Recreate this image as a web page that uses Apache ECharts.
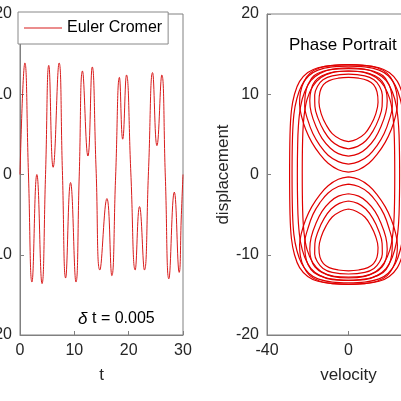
<!DOCTYPE html>
<html><head><meta charset="utf-8">
<script src="https://cdn.jsdelivr.net/npm/echarts@6/dist/echarts.min.js"></script>
<style>html,body{margin:0;padding:0;background:#fff}#c{width:401px;height:401px}</style>
</head><body><div id="c"></div>
<script>
// time series (t, displacement)
var eulerCromer = [[0,0],[0.9,13.9],[1.55,0.2],[2.2,-13.4],[3.1,0],[4.05,-13.6],[4.7,0],[5.3,13.6],[6.1,0.9],[7.2,13.9],[7.8,0.5],[8.4,-12.9],[9.3,-1],[10.3,-13.4],[10.9,-0.2],[11.5,12.9],[12.5,2.3],[13.3,13.4],[14.0,0.7],[14.7,-11.9],[16,-3],[16.9,-12.6],[17.6,-0.2],[18.3,12.1],[18.9,4.4],[19.6,12.4],[20.4,0.2],[21.2,-11.9],[22,-4],[22.9,-11.9],[23.65,0.4],[24.4,12.7],[25.2,3.6],[26.1,12.4],[26.75,-0.3],[27.4,-13],[28.4,-2.2],[29.3,-12.2],[29.7,-5],[30,0]];
// phase portrait loops (velocity, displacement)
var upperA = [[0,0.3],[5,0.6],[10,1.4],[14,2.5],[18,4],[21,5.6],[23,7.2],[24,8.8],[23.6,10.2],[22,11.5],[19,12.6],[14,13.3],[7,13.6],[0,13.7],[-7,13.6],[-14,13.3],[-19,12.6],[-22,11.5],[-23.6,10.2],[-24,8.8],[-23,7.2],[-21,5.6],[-18,4],[-14,2.5],[-10,1.4],[-5,0.6],[0,0.3]];
var upperB = [[0,1.3],[5,1.6],[10,2.4],[14,3.6],[17.5,5.1],[20,6.8],[21.5,8.5],[21.2,10],[19.7,11.3],[17,12.3],[12,12.9],[6,13.2],[0,13.3],[-6,13.2],[-12,12.9],[-17,12.3],[-19.7,11.3],[-21.2,10],[-21.5,8.5],[-20,6.8],[-17.5,5.1],[-14,3.6],[-10,2.4],[-5,1.6],[0,1.3]];
var upperC = [[0,2.3],[5,2.6],[9,3.3],[13,4.5],[16,6],[18.3,7.7],[19,9.2],[18.3,10.6],[16.5,11.6],[13,12.3],[7,12.8],[0,12.9],[-7,12.8],[-13,12.3],[-16.5,11.6],[-18.3,10.6],[-19,9.2],[-18.3,7.7],[-16,6],[-13,4.5],[-9,3.3],[-5,2.6],[0,2.3]];
var upperD = [[0,3.2],[4.5,3.5],[8.5,4.2],[12,5.4],[14.8,6.9],[16.5,8.5],[16.6,9.9],[15.2,11],[12.5,11.8],[8,12.3],[0,12.5],[-8,12.3],[-12.5,11.8],[-15.2,11],[-16.6,9.9],[-16.5,8.5],[-14.8,6.9],[-12,5.4],[-8.5,4.2],[-4.5,3.5],[0,3.2]];
var upperE = [[0,4.1],[4,4.4],[8,5.1],[11,6.2],[13.3,7.5],[14.5,9],[14,10.3],[12.3,11.2],[9.5,11.7],[5,12],[0,12.1],[-5,12],[-9.5,11.7],[-12.3,11.2],[-14,10.3],[-14.5,9],[-13.3,7.5],[-11,6.2],[-8,5.1],[-4,4.4],[0,4.1]];
var lowerA = [[0,-0.3],[5,-0.6],[10,-1.4],[14,-2.5],[18,-4],[21,-5.6],[23,-7.2],[24,-8.8],[23.6,-10.2],[22,-11.5],[19,-12.6],[14,-13.3],[7,-13.6],[0,-13.7],[-7,-13.6],[-14,-13.3],[-19,-12.6],[-22,-11.5],[-23.6,-10.2],[-24,-8.8],[-23,-7.2],[-21,-5.6],[-18,-4],[-14,-2.5],[-10,-1.4],[-5,-0.6],[0,-0.3]];
var lowerB = [[0,-1.2],[5,-1.5],[10,-2.3],[14,-3.5],[17.5,-5],[20,-6.8],[21.5,-8.5],[21.2,-10],[19.7,-11.3],[17,-12.2],[12,-12.8],[6,-13.1],[0,-13.2],[-6,-13.1],[-12,-12.8],[-17,-12.2],[-19.7,-11.3],[-21.2,-10],[-21.5,-8.5],[-20,-6.8],[-17.5,-5],[-14,-3.5],[-10,-2.3],[-5,-1.5],[0,-1.2]];
var lowerC = [[0,-2.4],[5,-2.7],[9,-3.4],[13,-4.6],[16,-6.1],[18.3,-7.8],[19,-9.3],[18.3,-10.6],[16.5,-11.5],[13,-12.2],[7,-12.7],[0,-12.8],[-7,-12.7],[-13,-12.2],[-16.5,-11.5],[-18.3,-10.6],[-19,-9.3],[-18.3,-7.8],[-16,-6.1],[-13,-4.6],[-9,-3.4],[-5,-2.7],[0,-2.4]];
var lowerD = [[0,-3.3],[4.5,-3.6],[8.5,-4.3],[12,-5.5],[14.8,-7],[16.5,-8.6],[16.6,-9.9],[15.2,-10.9],[12.5,-11.7],[8,-12.2],[0,-12.4],[-8,-12.2],[-12.5,-11.7],[-15.2,-10.9],[-16.6,-9.9],[-16.5,-8.6],[-14.8,-7],[-12,-5.5],[-8.5,-4.3],[-4.5,-3.6],[0,-3.3]];
var lowerE = [[0,-4.3],[4,-4.6],[8,-5.3],[11,-6.4],[13.3,-7.7],[14.5,-9.1],[14,-10.3],[12.3,-11.1],[9.5,-11.6],[5,-11.9],[0,-12],[-5,-11.9],[-9.5,-11.6],[-12.3,-11.1],[-14,-10.3],[-14.5,-9.1],[-13.3,-7.7],[-11,-6.4],[-8,-5.3],[-4,-4.6],[0,-4.3]];
var outerA = [[0,13.7],[8,13.6],[15,13.3],[20,12.7],[24,11.6],[26.5,10],[28,8],[28.7,5],[28.9,0],[28.7,-5],[28,-8],[26.5,-10],[24,-11.6],[20,-12.7],[15,-13.3],[8,-13.6],[0,-13.7],[-8,-13.6],[-15,-13.3],[-20,-12.7],[-24,-11.6],[-26.5,-10],[-28,-8],[-28.7,-5],[-28.9,0],[-28.7,5],[-28,8],[-26.5,10],[-24,11.6],[-20,12.7],[-15,13.3],[-8,13.6],[0,13.7]];
var outerB = [[0,13.5],[8,13.4],[15,13],[19.5,12.3],[23,11.1],[25.3,9.5],[26.8,7.5],[27.5,4.5],[27.7,0],[27.5,-4.5],[26.8,-7.5],[25.3,-9.5],[23,-11.1],[19.5,-12.3],[15,-13],[8,-13.4],[0,-13.5],[-8,-13.4],[-15,-13],[-19.5,-12.3],[-23,-11.1],[-25.3,-9.5],[-26.8,-7.5],[-27.5,-4.5],[-27.7,0],[-27.5,4.5],[-26.8,7.5],[-25.3,9.5],[-23,11.1],[-19.5,12.3],[-15,13],[-8,13.4],[0,13.5]];
var outerC = [[0,13.2],[8,13.1],[14,12.6],[18.5,11.7],[21.5,10.3],[23.5,8.5],[24.6,6],[25,3],[25.1,0],[25,-3],[24.6,-6],[23.5,-8.5],[21.5,-10.3],[18.5,-11.7],[14,-12.6],[8,-13.1],[0,-13.2],[-8,-13.1],[-14,-12.6],[-18.5,-11.7],[-21.5,-10.3],[-23.5,-8.5],[-24.6,-6],[-25,-3],[-25.1,0],[-25,3],[-24.6,6],[-23.5,8.5],[-21.5,10.3],[-18.5,11.7],[-14,12.6],[-8,13.1],[0,13.2]];
var outerD = [[0,12.9],[8,12.7],[13.5,12.1],[17.5,11],[20.3,9.4],[21.8,7.3],[22.5,4.5],[22.7,0],[22.5,-4.5],[21.8,-7.3],[20.3,-9.4],[17.5,-11],[13.5,-12.1],[8,-12.7],[0,-12.9],[-8,-12.7],[-13.5,-12.1],[-17.5,-11],[-20.3,-9.4],[-21.8,-7.3],[-22.5,-4.5],[-22.7,0],[-22.5,4.5],[-21.8,7.3],[-20.3,9.4],[-17.5,11],[-13.5,12.1],[-8,12.7],[0,12.9]];
var loops = [upperA,upperB,upperC,upperD,upperE,lowerA,lowerB,lowerC,lowerD,lowerE,outerA,outerB,outerC,outerD];
var font = 'Liberation Sans, Arial, sans-serif';
var red = '#d81c1c';
var chart = echarts.init(document.getElementById('c'));
function ax(min,max,interval,name,gap,idx){
  return {type:'value',gridIndex:idx,min:min,max:max,interval:interval,name:name,nameLocation:'middle',nameGap:gap,
    nameTextStyle:{fontFamily:font,fontSize:17,color:'#262626'},
    axisLine:{show:true,onZero:false,lineStyle:{color:'#808080'}},axisTick:{inside:true,length:4,lineStyle:{color:'#808080'}},
    axisLabel:{fontFamily:font,fontSize:16,color:'#262626',margin:8},splitLine:{show:false}};
}
var series = [{name:'Euler Cromer',type:'line',xAxisIndex:0,yAxisIndex:0,data:eulerCromer,smooth:0.5,showSymbol:false,lineStyle:{color:red,width:1},itemStyle:{color:red}}];
loops.forEach(function(l){
  series.push({type:'line',xAxisIndex:1,yAxisIndex:1,data:l,smooth:0.4,showSymbol:false,lineStyle:{color:'#e00000',width:1.2}});
});
chart.setOption({
  animation:false,
  grid:[{left:20,top:14,width:163,height:321,show:true,borderColor:'#808080',borderWidth:1,outerBoundsMode:'none',containLabel:false},
        {left:267,top:14,width:163,height:321,show:true,borderColor:'#808080',borderWidth:1,outerBoundsMode:'none',containLabel:false}],
  xAxis:[ax(0,30,10,'t',32,0),ax(-40,40,40,'velocity',32,1)],
  yAxis:[ax(-20,20,10,'',0,0),ax(-20,20,10,'displacement',34,1)],
  legend:{data:[{name:'Euler Cromer',icon:'rect'}],left:18,top:12,width:163,itemWidth:38,itemHeight:1,itemGap:6,
    padding:[8,6,8,6],borderColor:'#888',borderWidth:1,backgroundColor:'#fff',
    textStyle:{fontFamily:font,fontSize:16,color:'#000'}},
  graphic:[
    {type:'text',left:78,top:311,style:{text:'δ',font:'italic 17px '+font,fill:'#000'}},
    {type:'text',left:92,top:311,style:{text:'t = 0.005',font:'16px '+font,fill:'#000'}},
    {type:'text',left:289,top:37,style:{text:'Phase Portrait',font:'17px '+font,fill:'#000'}}
  ],
  series:series
});
</script></body></html>
